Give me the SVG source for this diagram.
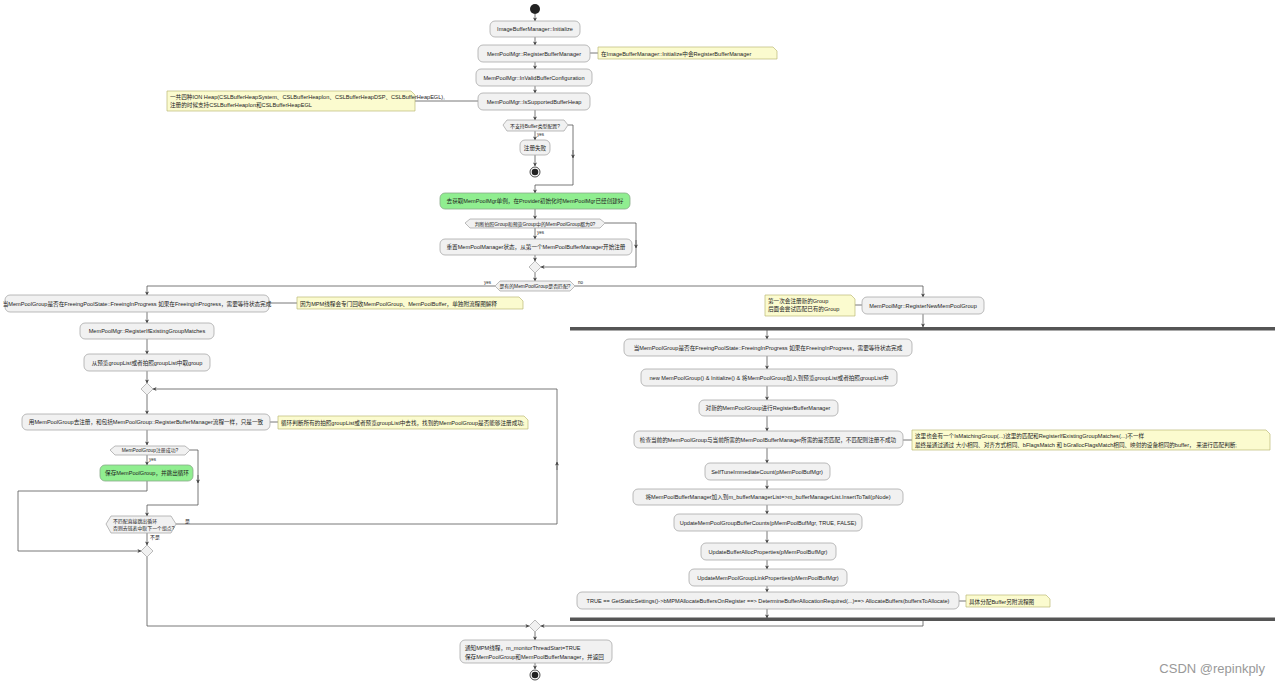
<svg xmlns="http://www.w3.org/2000/svg" width="1280" height="685" viewBox="0 0 1280 685">
<style>
text{font-family:"Liberation Sans","Noto Sans CJK SC",sans-serif;font-size:5.6px;fill:#222}
.hx text{font-size:4.9px}
.n{fill:#f1f1f1;stroke:#aaa;stroke-width:0.8}
.g{fill:#90ee90;stroke:#8a8;stroke-width:0.8}
.note{fill:#fbfbcf;stroke:#bbb977;stroke-width:0.7}
.h{fill:#f1f1f1;stroke:#aaa;stroke-width:0.8}
.c path,.c polyline,.c line{fill:none;stroke:#555;stroke-width:0.8}
.bar{fill:#555}
.m{text-anchor:middle}
</style>
<defs>
<marker id="a" viewBox="0 0 10 10" refX="9" refY="5" markerWidth="5" markerHeight="5" orient="auto"><path d="M0,0L10,5L0,10L3,5z" fill="#444"/></marker>
</defs>
<rect width="1280" height="685" fill="#fff"/>
<g class="c">
<line x1="535" y1="14" x2="535" y2="21" marker-end="url(#a)"/>
<line x1="535" y1="37" x2="535" y2="45" marker-end="url(#a)"/>
<line x1="535" y1="62" x2="535" y2="69" marker-end="url(#a)"/>
<line x1="535" y1="86" x2="535" y2="93" marker-end="url(#a)"/>
<line x1="535" y1="110" x2="535" y2="120" marker-end="url(#a)"/>
<line x1="535" y1="131" x2="535" y2="140" marker-end="url(#a)"/>
<line x1="535" y1="155" x2="535" y2="166" marker-end="url(#a)"/>
<polyline points="568,125 573,125 573,185 535,185"/>
<line x1="573" y1="150" x2="573" y2="158" marker-end="url(#a)"/>
<line x1="535" y1="185" x2="535" y2="193" marker-end="url(#a)"/>
<line x1="535" y1="209" x2="535" y2="219" marker-end="url(#a)"/>
<line x1="535" y1="228" x2="535" y2="239" marker-end="url(#a)"/>
<polyline points="605,223 636,223 636,267 541,267" marker-end="url(#a)"/>
<line x1="636" y1="240" x2="636" y2="248" marker-end="url(#a)"/>
<line x1="535" y1="255" x2="535" y2="261" marker-end="url(#a)"/>
<line x1="535" y1="273" x2="535" y2="281" marker-end="url(#a)"/>
<polyline points="495,286 147,286 147,295" marker-end="url(#a)"/>
<polyline points="575,286 923,286 923,297" marker-end="url(#a)"/>
<line x1="147" y1="312" x2="147" y2="323" marker-end="url(#a)"/>
<line x1="147" y1="339" x2="147" y2="354" marker-end="url(#a)"/>
<line x1="147" y1="371" x2="147" y2="383" marker-end="url(#a)"/>
<line x1="147" y1="395" x2="147" y2="414" marker-end="url(#a)"/>
<line x1="147" y1="430" x2="147" y2="445" marker-end="url(#a)"/>
<line x1="147" y1="455" x2="147" y2="465" marker-end="url(#a)"/>
<polyline points="190,450 198,450 198,505 147,505 147,516" marker-end="url(#a)"/>
<line x1="198" y1="475" x2="198" y2="483" marker-end="url(#a)"/>
<polyline points="147,481 147,491 18,491 18,551 141,551" marker-end="url(#a)"/>
<polyline points="176,524 557,524 557,389 153,389" marker-end="url(#a)"/>
<line x1="557" y1="470" x2="557" y2="462" marker-end="url(#a)"/>
<line x1="147" y1="533" x2="147" y2="545" marker-end="url(#a)"/>
<polyline points="147,557 147,626 529,626" marker-end="url(#a)"/>
<polyline points="923,621 923,626 541,626" marker-end="url(#a)"/>
<line x1="923" y1="314" x2="923" y2="327" marker-end="url(#a)"/>
<line x1="767" y1="330" x2="767" y2="339" marker-end="url(#a)"/>
<line x1="767" y1="356" x2="767" y2="369" marker-end="url(#a)"/>
<line x1="767" y1="386" x2="767" y2="400" marker-end="url(#a)"/>
<line x1="767" y1="416" x2="767" y2="431" marker-end="url(#a)"/>
<line x1="767" y1="448" x2="767" y2="463" marker-end="url(#a)"/>
<line x1="767" y1="480" x2="767" y2="489" marker-end="url(#a)"/>
<line x1="767" y1="505" x2="767" y2="514" marker-end="url(#a)"/>
<line x1="767" y1="531" x2="767" y2="543" marker-end="url(#a)"/>
<line x1="767" y1="560" x2="767" y2="569" marker-end="url(#a)"/>
<line x1="767" y1="586" x2="767" y2="592" marker-end="url(#a)"/>
<line x1="767" y1="609" x2="767" y2="618" marker-end="url(#a)"/>
<line x1="535" y1="632" x2="535" y2="640" marker-end="url(#a)"/>
<line x1="535" y1="663" x2="535" y2="669" marker-end="url(#a)"/>
<line x1="590" y1="53" x2="598" y2="53"/>
<line x1="415" y1="101" x2="478" y2="101"/>
<line x1="269" y1="303" x2="297" y2="303"/>
<line x1="252" y1="422" x2="278" y2="422"/>
<line x1="855" y1="305" x2="862" y2="305"/>
<line x1="903" y1="440" x2="912" y2="440"/>
<line x1="959" y1="601" x2="966" y2="601"/>
</g>
<g id="start"><circle cx="535" cy="9" r="5" fill="#222"/></g>
<g id="n1"><rect class="n" x="490" y="21" width="90" height="16" rx="5"/><text class="m" x="535" y="31">ImageBufferManager::Initialize</text></g>
<g id="n2"><rect class="n" x="478" y="45" width="112" height="17" rx="5"/><text class="m" x="534" y="55.5">MemPoolMgr::RegisterBufferManager</text></g>
<g id="note1"><path class="note" d="M598,47H773L777,51V59H598Z"/><text x="601" y="55.5">在ImageBufferManager::Initialize中会RegisterBufferManager</text></g>
<g id="n3"><rect class="n" x="476" y="69" width="116" height="17" rx="5"/><text class="m" x="534" y="79.5">MemPoolMgr::InValidBufferConfiguration</text></g>
<g id="n4"><rect class="n" x="478" y="93" width="112" height="17" rx="5"/><text class="m" x="534" y="103.5">MemPoolMgr::IsSupportedBufferHeap</text></g>
<g id="note2"><path class="note" d="M167,91H411L415,95V111H167Z"/><text x="170" y="98.5">一共四种ION Heap(CSLBufferHeapSystem、CSLBufferHeapIon、CSLBufferHeapDSP、CSLBufferHeapEGL),</text><text x="170" y="106.5">注册的时候支持CSLBufferHeapIon和CSLBufferHeapEGL</text></g>
<g id="d1" class="hx"><polygon class="h" points="503,125 507,120 564,120 568,125 564,131 507,131"/><text class="m" x="535" y="127.5">不支持Buffer类型配置?</text><text x="537" y="136" style="font-size:4.5px">yes</text></g>
<g id="n5"><rect class="n" x="520" y="140" width="30" height="15" rx="5"/><text class="m" x="535" y="149.5">注册失败</text></g>
<g id="end1"><circle cx="535" cy="172" r="5" fill="#fff" stroke="#222" stroke-width="0.8"/><circle cx="535" cy="172" r="3.3" fill="#222"/></g>
<g id="n6"><rect class="g" x="440" y="193" width="190" height="16" rx="5"/><text class="m" x="535" y="203">去获取MemPoolMgr单例，在Provider初始化时MemPoolMgr已经创建好</text></g>
<g id="d2" class="hx"><polygon class="h" points="465,223 470,219 600,219 605,223 600,228 470,228"/><text class="m" x="535" y="225.5">判断拍照Group和预览Group中的MemPoolGroup都为0?</text><text x="537" y="234" style="font-size:4.5px">yes</text></g>
<g id="n7"><rect class="n" x="440" y="239" width="192" height="16" rx="5"/><text class="m" x="536" y="249">重置MemPoolManager状态，从第一个MemPoolBufferManager开始注册</text></g>
<g id="m1"><polygon class="h" points="535,261 541,267 535,273 529,267"/></g>
<g id="d3" class="hx"><polygon class="h" points="495,286 500,281 570,281 575,286 570,291 500,291"/><text class="m" x="535" y="288">是有的MemPoolGroup是否匹配?</text><text x="484" y="284" style="font-size:4.5px">yes</text><text x="578" y="284" style="font-size:4.5px">no</text></g>
<g id="l1"><rect class="n" x="5" y="295" width="264" height="17" rx="5"/><text class="m" x="137" y="305.5">当MemPoolGroup是否在FreeingPoolState::FreeingInProgress 如果在FreeingInProgress，需要等待状态完成</text></g>
<g id="note3"><path class="note" d="M297,297H519L523,301V309H297Z"/><text x="300" y="305.5">因为MPM线程会专门回收MemPoolGroup、MemPoolBuffer，单独附流程图解释</text></g>
<g id="l2"><rect class="n" x="80" y="323" width="134" height="16" rx="5"/><text class="m" x="147" y="333">MemPoolMgr::RegisterIfExistingGroupMatches</text></g>
<g id="l3"><rect class="n" x="84" y="354" width="126" height="17" rx="5"/><text class="m" x="147" y="364.5">从预览groupList或者拍照groupList中取group</text></g>
<g id="m2"><polygon class="h" points="147,383 153,389 147,395 141,389"/></g>
<g id="l4"><rect class="n" x="22" y="414" width="248" height="16" rx="5"/><text class="m" x="146" y="424">用MemPoolGroup去注册，和包括MemPoolGroup::RegisterBufferManager流程一样，只是一致</text></g>
<g id="note4"><path class="note" d="M278,416H524L528,420V429H278Z"/><text x="281" y="424.5">循环判断所有的拍照groupList或者预览groupList中去找，找到的MemPoolGroup是否能够注册成功;</text></g>
<g id="d4" class="hx"><polygon class="h" points="110,450 115,446 185,446 190,450 185,455 115,455"/><text class="m" x="150" y="452.3">MemPoolGroup注册成功?</text><text x="149" y="461" style="font-size:4.5px">yes</text></g>
<g id="l5"><rect class="g" x="100" y="465" width="93" height="16" rx="5"/><text class="m" x="147" y="475">保存MemPoolGroup，并跳出循环</text></g>
<g id="d5" class="hx"><polygon class="h" points="106,524 111,516 171,516 176,524 171,533 111,533"/><text x="113" y="522.5">不匹配直接跳出循环</text><text x="113" y="530">否则去链表中取下一个组点?</text><text x="185" y="523">是</text><text x="150" y="539">不是</text></g>
<g id="m3"><polygon class="h" points="147,545 153,551 147,557 141,551"/></g>
<g id="note5"><path class="note" d="M765,295H851L855,299V316H765Z"/><text x="768" y="302.5">第一次会注册新的Group</text><text x="768" y="311">后面会尝试匹配已有的Group</text></g>
<g id="r0"><rect class="n" x="862" y="297" width="122" height="17" rx="5"/><text class="m" x="923" y="307.5">MemPoolMgr::RegisterNewMemPoolGroup</text></g>
<g id="bar1"><rect class="bar" x="570" y="327" width="705" height="3.5"/></g>
<g id="r1"><rect class="n" x="624" y="339" width="288" height="17" rx="5"/><text class="m" x="768" y="349.5">当MemPoolGroup是否在FreeingPoolState::FreeingInProgress 如果在FreeingInProgress，需要等待状态完成</text></g>
<g id="r2"><rect class="n" x="641" y="369" width="256" height="17" rx="5"/><text class="m" x="769" y="379.5">new MemPoolGroup() &amp; Initialize() &amp; 将MemPoolGroup加入到预览groupList或者拍照groupList中</text></g>
<g id="r3"><rect class="n" x="699" y="400" width="139" height="16" rx="5"/><text class="m" x="768" y="410">对新的MemPoolGroup进行RegisterBufferManager</text></g>
<g id="r4"><rect class="n" x="634" y="431" width="269" height="17" rx="5"/><text class="m" x="768" y="441.5">检查当前的MemPoolGroup与当前所需的MemPoolBufferManager所需的是否匹配，不匹配则注册不成功</text></g>
<g id="note6"><path class="note" d="M912,430H1266L1270,434V450H912Z"/><text x="915" y="438">这里也会有一个IsMatchingGroup(...)这里的匹配和RegisterIfExistingGroupMatches(...)不一样</text><text x="915" y="446.5">最终是通过通过 大小相同、对齐方式相同、bFlagsMatch 和 bGrallocFlagsMatch相同、映射的设备相同的buffer， 来进行匹配判断;</text></g>
<g id="r5"><rect class="n" x="705" y="463" width="125" height="17" rx="5"/><text class="m" x="767" y="473.5">SelfTuneImmediateCount(pMemPoolBufMgr)</text></g>
<g id="r6"><rect class="n" x="633" y="489" width="270" height="16" rx="5"/><text class="m" x="768" y="499">将MemPoolBufferManager加入到m_bufferManagerList=&gt;m_bufferManagerList.InsertToTail(pNode)</text></g>
<g id="r7"><rect class="n" x="674" y="514" width="188" height="17" rx="5"/><text class="m" x="768" y="524.5">UpdateMemPoolGroupBufferCounts(pMemPoolBufMgr, TRUE, FALSE)</text></g>
<g id="r8"><rect class="n" x="701" y="543" width="135" height="17" rx="5"/><text class="m" x="768" y="553.5">UpdateBufferAllocProperties(pMemPoolBufMgr)</text></g>
<g id="r9"><rect class="n" x="689" y="569" width="158" height="17" rx="5"/><text class="m" x="768" y="579.5">UpdateMemPoolGroupLinkProperties(pMemPoolBufMgr)</text></g>
<g id="r10"><rect class="n" x="577" y="592" width="382" height="17" rx="5"/><text class="m" x="768" y="602.5">TRUE == GetStaticSettings()-&gt;bMPMAllocateBuffersOnRegister ==&gt; DetermineBufferAllocationRequired(...)==&gt; AllocateBuffers(buffersToAllocate)</text></g>
<g id="note7"><path class="note" d="M966,595H1046L1050,599V607H966Z"/><text x="969" y="603.5">具体分配Buffer另附流程图</text></g>
<g id="bar2"><rect class="bar" x="570" y="617.5" width="705" height="3.5"/></g>
<g id="m4"><polygon class="h" points="535,620 541,626 535,632 529,626"/></g>
<g id="fin"><rect class="n" x="460" y="640" width="152" height="23" rx="5"/><text x="465" y="650">通知MPM线程，m_monitorThreadStart=TRUE</text><text x="465" y="658.5">保存MemPoolGroup和MemPoolBufferManager，并返回</text></g>
<g id="end2"><circle cx="535" cy="675" r="5" fill="#fff" stroke="#222" stroke-width="0.8"/><circle cx="535" cy="675" r="3.3" fill="#222"/></g>
<text x="1265" y="673" text-anchor="end" style="font-size:13px;fill:#999">CSDN @repinkply</text>
</svg>
